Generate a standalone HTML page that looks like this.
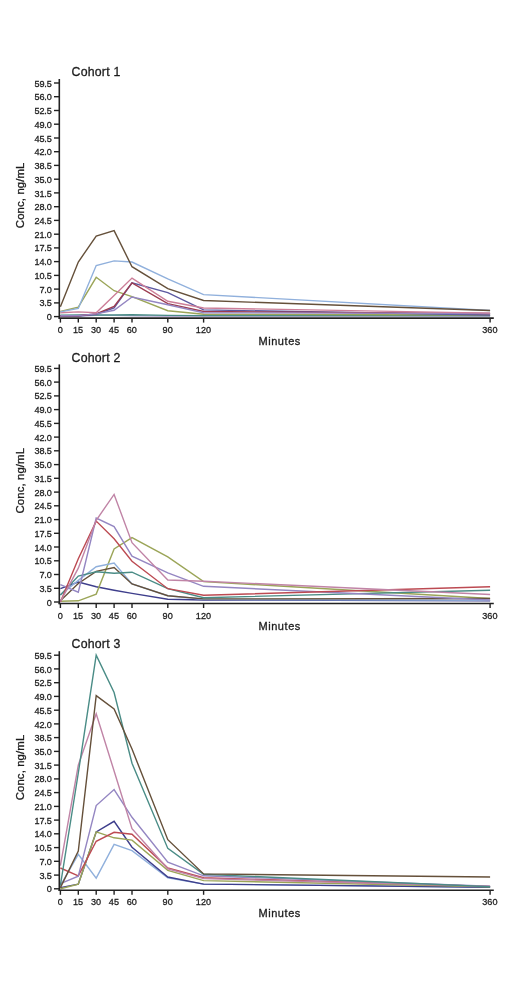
<!DOCTYPE html>
<html><head><meta charset="utf-8"><title>Cohort concentration charts</title>
<style>
html,body{margin:0;padding:0;background:#fff;}
body{width:520px;height:981px;overflow:hidden;}
svg{display:block;font-family:'Liberation Sans', Arial, sans-serif;}
</style></head>
<body>
<svg width="520" height="981" viewBox="0 0 520 981">
<g>
<text x="71.6" y="76.1" font-size="12.3" letter-spacing="0.22" stroke="#1c1c1c" stroke-width="0.3" fill="#1c1c1c">Cohort 1</text>
<text transform="translate(24.4,195.3) rotate(-90)" text-anchor="middle" font-size="11.4" letter-spacing="0.1" stroke="#1c1c1c" stroke-width="0.3" fill="#1c1c1c">Conc, ng/mL</text>
<polyline points="60.4,316.2 78.3,316.2 96.2,315.4 114.1,315.4 132.0,315.8 167.8,316.2 203.6,316.2 490.1,316.2" fill="none" stroke="#b8aed6" stroke-width="1.4" stroke-linejoin="miter"/>
<polyline points="60.4,315.2 78.3,315.0 96.2,315.0 114.1,315.0 132.0,314.8 167.8,315.4 203.6,315.6 490.1,315.6" fill="none" stroke="#4a8c86" stroke-width="1.4" stroke-linejoin="miter"/>
<polyline points="60.4,311.5 78.3,307.2 96.2,277.3 114.1,290.7 132.0,296.6 167.8,310.7 203.6,314.2 490.1,315.0" fill="none" stroke="#9ba558" stroke-width="1.4" stroke-linejoin="miter"/>
<polyline points="60.4,316.0 78.3,316.0 96.2,314.2 114.1,308.0 132.0,282.8 167.8,292.7 203.6,309.9 490.1,315.0" fill="none" stroke="#5c58a0" stroke-width="1.4" stroke-linejoin="miter"/>
<polyline points="60.4,315.8 78.3,315.8 96.2,313.9 114.1,306.4 132.0,282.8 167.8,303.6 203.6,311.5 490.1,313.5" fill="none" stroke="#9c3c50" stroke-width="1.4" stroke-linejoin="miter"/>
<polyline points="60.4,315.8 78.3,315.6 96.2,313.9 114.1,310.3 132.0,297.0 167.8,304.8 203.6,312.7 490.1,313.5" fill="none" stroke="#9486c2" stroke-width="1.4" stroke-linejoin="miter"/>
<polyline points="60.4,312.7 78.3,311.9 96.2,312.7 114.1,295.4 132.0,278.1 167.8,301.3 203.6,308.0 490.1,313.1" fill="none" stroke="#cc7e98" stroke-width="1.4" stroke-linejoin="miter"/>
<polyline points="60.4,311.9 78.3,308.4 96.2,265.6 114.1,260.9 132.0,262.0 167.8,278.9 203.6,294.6 490.1,310.5" fill="none" stroke="#90b0dc" stroke-width="1.4" stroke-linejoin="miter"/>
<polyline points="60.4,306.8 78.3,262.0 96.2,236.1 114.1,230.6 132.0,266.7 167.8,288.7 203.6,300.5 490.1,310.5" fill="none" stroke="#65503a" stroke-width="1.4" stroke-linejoin="miter"/>
<line x1="59.3" y1="79.0" x2="59.3" y2="318.8" stroke="#222" stroke-width="1.6"/>
<line x1="54" y1="316.6" x2="59.3" y2="316.6" stroke="#222" stroke-width="1.4"/>
<text transform="translate(51.6,320.20) scale(0.92,1)" font-size="9.9" letter-spacing="-0.2" text-anchor="end" stroke="#1c1c1c" stroke-width="0.3" fill="#1c1c1c">0</text>
<line x1="54" y1="302.9" x2="59.3" y2="302.9" stroke="#222" stroke-width="1.4"/>
<text transform="translate(51.6,306.46) scale(0.92,1)" font-size="9.9" letter-spacing="-0.2" text-anchor="end" stroke="#1c1c1c" stroke-width="0.3" fill="#1c1c1c">3.5</text>
<line x1="54" y1="289.1" x2="59.3" y2="289.1" stroke="#222" stroke-width="1.4"/>
<text transform="translate(51.6,292.72) scale(0.92,1)" font-size="9.9" letter-spacing="-0.2" text-anchor="end" stroke="#1c1c1c" stroke-width="0.3" fill="#1c1c1c">7.0</text>
<line x1="54" y1="275.4" x2="59.3" y2="275.4" stroke="#222" stroke-width="1.4"/>
<text transform="translate(51.6,278.98) scale(0.92,1)" font-size="9.9" letter-spacing="-0.2" text-anchor="end" stroke="#1c1c1c" stroke-width="0.3" fill="#1c1c1c">10.5</text>
<line x1="54" y1="261.6" x2="59.3" y2="261.6" stroke="#222" stroke-width="1.4"/>
<text transform="translate(51.6,265.24) scale(0.92,1)" font-size="9.9" letter-spacing="-0.2" text-anchor="end" stroke="#1c1c1c" stroke-width="0.3" fill="#1c1c1c">14.0</text>
<line x1="54" y1="247.9" x2="59.3" y2="247.9" stroke="#222" stroke-width="1.4"/>
<text transform="translate(51.6,251.49) scale(0.92,1)" font-size="9.9" letter-spacing="-0.2" text-anchor="end" stroke="#1c1c1c" stroke-width="0.3" fill="#1c1c1c">17.5</text>
<line x1="54" y1="234.2" x2="59.3" y2="234.2" stroke="#222" stroke-width="1.4"/>
<text transform="translate(51.6,237.75) scale(0.92,1)" font-size="9.9" letter-spacing="-0.2" text-anchor="end" stroke="#1c1c1c" stroke-width="0.3" fill="#1c1c1c">21.0</text>
<line x1="54" y1="220.4" x2="59.3" y2="220.4" stroke="#222" stroke-width="1.4"/>
<text transform="translate(51.6,224.01) scale(0.92,1)" font-size="9.9" letter-spacing="-0.2" text-anchor="end" stroke="#1c1c1c" stroke-width="0.3" fill="#1c1c1c">24.5</text>
<line x1="54" y1="206.7" x2="59.3" y2="206.7" stroke="#222" stroke-width="1.4"/>
<text transform="translate(51.6,210.27) scale(0.92,1)" font-size="9.9" letter-spacing="-0.2" text-anchor="end" stroke="#1c1c1c" stroke-width="0.3" fill="#1c1c1c">28.0</text>
<line x1="54" y1="192.9" x2="59.3" y2="192.9" stroke="#222" stroke-width="1.4"/>
<text transform="translate(51.6,196.53) scale(0.92,1)" font-size="9.9" letter-spacing="-0.2" text-anchor="end" stroke="#1c1c1c" stroke-width="0.3" fill="#1c1c1c">31.5</text>
<line x1="54" y1="179.2" x2="59.3" y2="179.2" stroke="#222" stroke-width="1.4"/>
<text transform="translate(51.6,182.79) scale(0.92,1)" font-size="9.9" letter-spacing="-0.2" text-anchor="end" stroke="#1c1c1c" stroke-width="0.3" fill="#1c1c1c">35.0</text>
<line x1="54" y1="165.4" x2="59.3" y2="165.4" stroke="#222" stroke-width="1.4"/>
<text transform="translate(51.6,169.05) scale(0.92,1)" font-size="9.9" letter-spacing="-0.2" text-anchor="end" stroke="#1c1c1c" stroke-width="0.3" fill="#1c1c1c">38.5</text>
<line x1="54" y1="151.7" x2="59.3" y2="151.7" stroke="#222" stroke-width="1.4"/>
<text transform="translate(51.6,155.31) scale(0.92,1)" font-size="9.9" letter-spacing="-0.2" text-anchor="end" stroke="#1c1c1c" stroke-width="0.3" fill="#1c1c1c">42.0</text>
<line x1="54" y1="138.0" x2="59.3" y2="138.0" stroke="#222" stroke-width="1.4"/>
<text transform="translate(51.6,141.56) scale(0.92,1)" font-size="9.9" letter-spacing="-0.2" text-anchor="end" stroke="#1c1c1c" stroke-width="0.3" fill="#1c1c1c">45.5</text>
<line x1="54" y1="124.2" x2="59.3" y2="124.2" stroke="#222" stroke-width="1.4"/>
<text transform="translate(51.6,127.82) scale(0.92,1)" font-size="9.9" letter-spacing="-0.2" text-anchor="end" stroke="#1c1c1c" stroke-width="0.3" fill="#1c1c1c">49.0</text>
<line x1="54" y1="110.5" x2="59.3" y2="110.5" stroke="#222" stroke-width="1.4"/>
<text transform="translate(51.6,114.08) scale(0.92,1)" font-size="9.9" letter-spacing="-0.2" text-anchor="end" stroke="#1c1c1c" stroke-width="0.3" fill="#1c1c1c">52.5</text>
<line x1="54" y1="96.7" x2="59.3" y2="96.7" stroke="#222" stroke-width="1.4"/>
<text transform="translate(51.6,100.34) scale(0.92,1)" font-size="9.9" letter-spacing="-0.2" text-anchor="end" stroke="#1c1c1c" stroke-width="0.3" fill="#1c1c1c">56.0</text>
<line x1="54" y1="83.0" x2="59.3" y2="83.0" stroke="#222" stroke-width="1.4"/>
<text transform="translate(51.6,86.60) scale(0.92,1)" font-size="9.9" letter-spacing="-0.2" text-anchor="end" stroke="#1c1c1c" stroke-width="0.3" fill="#1c1c1c">59.5</text>
<line x1="58.6" y1="318.1" x2="493.8" y2="318.1" stroke="#222" stroke-width="1.6"/>
<line x1="60.4" y1="318.1" x2="60.4" y2="322.6" stroke="#222" stroke-width="1.4"/>
<text transform="translate(60.20,333.20) scale(0.93,1)" font-size="9.8" text-anchor="middle" stroke="#1c1c1c" stroke-width="0.3" fill="#1c1c1c">0</text>
<line x1="78.3" y1="318.1" x2="78.3" y2="322.6" stroke="#222" stroke-width="1.4"/>
<text transform="translate(78.10,333.20) scale(0.93,1)" font-size="9.8" text-anchor="middle" stroke="#1c1c1c" stroke-width="0.3" fill="#1c1c1c">15</text>
<line x1="96.2" y1="318.1" x2="96.2" y2="322.6" stroke="#222" stroke-width="1.4"/>
<text transform="translate(96.01,333.20) scale(0.93,1)" font-size="9.8" text-anchor="middle" stroke="#1c1c1c" stroke-width="0.3" fill="#1c1c1c">30</text>
<line x1="114.1" y1="318.1" x2="114.1" y2="322.6" stroke="#222" stroke-width="1.4"/>
<text transform="translate(113.91,333.20) scale(0.93,1)" font-size="9.8" text-anchor="middle" stroke="#1c1c1c" stroke-width="0.3" fill="#1c1c1c">45</text>
<line x1="132.0" y1="318.1" x2="132.0" y2="322.6" stroke="#222" stroke-width="1.4"/>
<text transform="translate(131.82,333.20) scale(0.93,1)" font-size="9.8" text-anchor="middle" stroke="#1c1c1c" stroke-width="0.3" fill="#1c1c1c">60</text>
<line x1="167.8" y1="318.1" x2="167.8" y2="322.6" stroke="#222" stroke-width="1.4"/>
<text transform="translate(167.63,333.20) scale(0.93,1)" font-size="9.8" text-anchor="middle" stroke="#1c1c1c" stroke-width="0.3" fill="#1c1c1c">90</text>
<line x1="203.6" y1="318.1" x2="203.6" y2="322.6" stroke="#222" stroke-width="1.4"/>
<text transform="translate(203.43,333.20) scale(0.93,1)" font-size="9.8" text-anchor="middle" stroke="#1c1c1c" stroke-width="0.3" fill="#1c1c1c">120</text>
<line x1="490.1" y1="318.1" x2="490.1" y2="322.6" stroke="#222" stroke-width="1.4"/>
<text transform="translate(489.90,333.20) scale(0.93,1)" font-size="9.8" text-anchor="middle" stroke="#1c1c1c" stroke-width="0.3" fill="#1c1c1c">360</text>
<text x="279.7" y="344.9" font-size="11" letter-spacing="0.55" text-anchor="middle" stroke="#1c1c1c" stroke-width="0.3" fill="#1c1c1c">Minutes</text>
</g>
<g>
<text x="71.6" y="361.5" font-size="12.3" letter-spacing="0.22" stroke="#1c1c1c" stroke-width="0.3" fill="#1c1c1c">Cohort 2</text>
<text transform="translate(24.4,480.7) rotate(-90)" text-anchor="middle" font-size="11.4" letter-spacing="0.1" stroke="#1c1c1c" stroke-width="0.3" fill="#1c1c1c">Conc, ng/mL</text>
<polyline points="60.4,588.7 78.3,582.0 96.2,586.7 114.1,590.2 132.0,593.4 167.8,599.3 203.6,600.0 490.1,600.8" fill="none" stroke="#3e3e8c" stroke-width="1.4" stroke-linejoin="miter"/>
<polyline points="60.4,601.2 78.3,600.8 96.2,594.1 114.1,549.0 132.0,537.6 167.8,556.9 203.6,581.6 490.1,598.5" fill="none" stroke="#9ba558" stroke-width="1.4" stroke-linejoin="miter"/>
<polyline points="60.4,594.9 78.3,580.4 96.2,566.7 114.1,563.1 132.0,583.9 167.8,595.7 203.6,599.3 490.1,600.4" fill="none" stroke="#90b0dc" stroke-width="1.4" stroke-linejoin="miter"/>
<polyline points="60.4,600.8 78.3,583.5 96.2,571.4 114.1,567.5 132.0,583.9 167.8,595.7 203.6,598.9 490.1,598.5" fill="none" stroke="#65503a" stroke-width="1.4" stroke-linejoin="miter"/>
<polyline points="60.4,594.9 78.3,576.1 96.2,571.8 114.1,573.3 132.0,572.2 167.8,588.7 203.6,597.7 490.1,590.2" fill="none" stroke="#4a8c86" stroke-width="1.4" stroke-linejoin="miter"/>
<polyline points="60.4,584.7 78.3,592.2 96.2,518.0 114.1,526.6 132.0,556.1 167.8,572.9 203.6,586.3 490.1,600.0" fill="none" stroke="#9486c2" stroke-width="1.4" stroke-linejoin="miter"/>
<polyline points="60.4,602.0 78.3,558.8 96.2,521.1 114.1,538.8 132.0,561.2 167.8,588.7 203.6,595.3 490.1,586.7" fill="none" stroke="#bc4a52" stroke-width="1.4" stroke-linejoin="miter"/>
<polyline points="60.4,601.6 78.3,568.2 96.2,520.3 114.1,494.4 132.0,542.7 167.8,580.0 203.6,581.2 490.1,594.5" fill="none" stroke="#c084a6" stroke-width="1.4" stroke-linejoin="miter"/>
<line x1="59.3" y1="364.4" x2="59.3" y2="604.2" stroke="#222" stroke-width="1.6"/>
<line x1="54" y1="602.0" x2="59.3" y2="602.0" stroke="#222" stroke-width="1.4"/>
<text transform="translate(51.6,605.60) scale(0.92,1)" font-size="9.9" letter-spacing="-0.2" text-anchor="end" stroke="#1c1c1c" stroke-width="0.3" fill="#1c1c1c">0</text>
<line x1="54" y1="588.3" x2="59.3" y2="588.3" stroke="#222" stroke-width="1.4"/>
<text transform="translate(51.6,591.86) scale(0.92,1)" font-size="9.9" letter-spacing="-0.2" text-anchor="end" stroke="#1c1c1c" stroke-width="0.3" fill="#1c1c1c">3.5</text>
<line x1="54" y1="574.5" x2="59.3" y2="574.5" stroke="#222" stroke-width="1.4"/>
<text transform="translate(51.6,578.12) scale(0.92,1)" font-size="9.9" letter-spacing="-0.2" text-anchor="end" stroke="#1c1c1c" stroke-width="0.3" fill="#1c1c1c">7.0</text>
<line x1="54" y1="560.8" x2="59.3" y2="560.8" stroke="#222" stroke-width="1.4"/>
<text transform="translate(51.6,564.38) scale(0.92,1)" font-size="9.9" letter-spacing="-0.2" text-anchor="end" stroke="#1c1c1c" stroke-width="0.3" fill="#1c1c1c">10.5</text>
<line x1="54" y1="547.0" x2="59.3" y2="547.0" stroke="#222" stroke-width="1.4"/>
<text transform="translate(51.6,550.64) scale(0.92,1)" font-size="9.9" letter-spacing="-0.2" text-anchor="end" stroke="#1c1c1c" stroke-width="0.3" fill="#1c1c1c">14.0</text>
<line x1="54" y1="533.3" x2="59.3" y2="533.3" stroke="#222" stroke-width="1.4"/>
<text transform="translate(51.6,536.89) scale(0.92,1)" font-size="9.9" letter-spacing="-0.2" text-anchor="end" stroke="#1c1c1c" stroke-width="0.3" fill="#1c1c1c">17.5</text>
<line x1="54" y1="519.6" x2="59.3" y2="519.6" stroke="#222" stroke-width="1.4"/>
<text transform="translate(51.6,523.15) scale(0.92,1)" font-size="9.9" letter-spacing="-0.2" text-anchor="end" stroke="#1c1c1c" stroke-width="0.3" fill="#1c1c1c">21.0</text>
<line x1="54" y1="505.8" x2="59.3" y2="505.8" stroke="#222" stroke-width="1.4"/>
<text transform="translate(51.6,509.41) scale(0.92,1)" font-size="9.9" letter-spacing="-0.2" text-anchor="end" stroke="#1c1c1c" stroke-width="0.3" fill="#1c1c1c">24.5</text>
<line x1="54" y1="492.1" x2="59.3" y2="492.1" stroke="#222" stroke-width="1.4"/>
<text transform="translate(51.6,495.67) scale(0.92,1)" font-size="9.9" letter-spacing="-0.2" text-anchor="end" stroke="#1c1c1c" stroke-width="0.3" fill="#1c1c1c">28.0</text>
<line x1="54" y1="478.3" x2="59.3" y2="478.3" stroke="#222" stroke-width="1.4"/>
<text transform="translate(51.6,481.93) scale(0.92,1)" font-size="9.9" letter-spacing="-0.2" text-anchor="end" stroke="#1c1c1c" stroke-width="0.3" fill="#1c1c1c">31.5</text>
<line x1="54" y1="464.6" x2="59.3" y2="464.6" stroke="#222" stroke-width="1.4"/>
<text transform="translate(51.6,468.19) scale(0.92,1)" font-size="9.9" letter-spacing="-0.2" text-anchor="end" stroke="#1c1c1c" stroke-width="0.3" fill="#1c1c1c">35.0</text>
<line x1="54" y1="450.8" x2="59.3" y2="450.8" stroke="#222" stroke-width="1.4"/>
<text transform="translate(51.6,454.45) scale(0.92,1)" font-size="9.9" letter-spacing="-0.2" text-anchor="end" stroke="#1c1c1c" stroke-width="0.3" fill="#1c1c1c">38.5</text>
<line x1="54" y1="437.1" x2="59.3" y2="437.1" stroke="#222" stroke-width="1.4"/>
<text transform="translate(51.6,440.71) scale(0.92,1)" font-size="9.9" letter-spacing="-0.2" text-anchor="end" stroke="#1c1c1c" stroke-width="0.3" fill="#1c1c1c">42.0</text>
<line x1="54" y1="423.4" x2="59.3" y2="423.4" stroke="#222" stroke-width="1.4"/>
<text transform="translate(51.6,426.96) scale(0.92,1)" font-size="9.9" letter-spacing="-0.2" text-anchor="end" stroke="#1c1c1c" stroke-width="0.3" fill="#1c1c1c">45.5</text>
<line x1="54" y1="409.6" x2="59.3" y2="409.6" stroke="#222" stroke-width="1.4"/>
<text transform="translate(51.6,413.22) scale(0.92,1)" font-size="9.9" letter-spacing="-0.2" text-anchor="end" stroke="#1c1c1c" stroke-width="0.3" fill="#1c1c1c">49.0</text>
<line x1="54" y1="395.9" x2="59.3" y2="395.9" stroke="#222" stroke-width="1.4"/>
<text transform="translate(51.6,399.48) scale(0.92,1)" font-size="9.9" letter-spacing="-0.2" text-anchor="end" stroke="#1c1c1c" stroke-width="0.3" fill="#1c1c1c">52.5</text>
<line x1="54" y1="382.1" x2="59.3" y2="382.1" stroke="#222" stroke-width="1.4"/>
<text transform="translate(51.6,385.74) scale(0.92,1)" font-size="9.9" letter-spacing="-0.2" text-anchor="end" stroke="#1c1c1c" stroke-width="0.3" fill="#1c1c1c">56.0</text>
<line x1="54" y1="368.4" x2="59.3" y2="368.4" stroke="#222" stroke-width="1.4"/>
<text transform="translate(51.6,372.00) scale(0.92,1)" font-size="9.9" letter-spacing="-0.2" text-anchor="end" stroke="#1c1c1c" stroke-width="0.3" fill="#1c1c1c">59.5</text>
<line x1="58.6" y1="603.5" x2="493.8" y2="603.5" stroke="#222" stroke-width="1.6"/>
<line x1="60.4" y1="603.5" x2="60.4" y2="608.0" stroke="#222" stroke-width="1.4"/>
<text transform="translate(60.20,618.60) scale(0.93,1)" font-size="9.8" text-anchor="middle" stroke="#1c1c1c" stroke-width="0.3" fill="#1c1c1c">0</text>
<line x1="78.3" y1="603.5" x2="78.3" y2="608.0" stroke="#222" stroke-width="1.4"/>
<text transform="translate(78.10,618.60) scale(0.93,1)" font-size="9.8" text-anchor="middle" stroke="#1c1c1c" stroke-width="0.3" fill="#1c1c1c">15</text>
<line x1="96.2" y1="603.5" x2="96.2" y2="608.0" stroke="#222" stroke-width="1.4"/>
<text transform="translate(96.01,618.60) scale(0.93,1)" font-size="9.8" text-anchor="middle" stroke="#1c1c1c" stroke-width="0.3" fill="#1c1c1c">30</text>
<line x1="114.1" y1="603.5" x2="114.1" y2="608.0" stroke="#222" stroke-width="1.4"/>
<text transform="translate(113.91,618.60) scale(0.93,1)" font-size="9.8" text-anchor="middle" stroke="#1c1c1c" stroke-width="0.3" fill="#1c1c1c">45</text>
<line x1="132.0" y1="603.5" x2="132.0" y2="608.0" stroke="#222" stroke-width="1.4"/>
<text transform="translate(131.82,618.60) scale(0.93,1)" font-size="9.8" text-anchor="middle" stroke="#1c1c1c" stroke-width="0.3" fill="#1c1c1c">60</text>
<line x1="167.8" y1="603.5" x2="167.8" y2="608.0" stroke="#222" stroke-width="1.4"/>
<text transform="translate(167.63,618.60) scale(0.93,1)" font-size="9.8" text-anchor="middle" stroke="#1c1c1c" stroke-width="0.3" fill="#1c1c1c">90</text>
<line x1="203.6" y1="603.5" x2="203.6" y2="608.0" stroke="#222" stroke-width="1.4"/>
<text transform="translate(203.43,618.60) scale(0.93,1)" font-size="9.8" text-anchor="middle" stroke="#1c1c1c" stroke-width="0.3" fill="#1c1c1c">120</text>
<line x1="490.1" y1="603.5" x2="490.1" y2="608.0" stroke="#222" stroke-width="1.4"/>
<text transform="translate(489.90,618.60) scale(0.93,1)" font-size="9.8" text-anchor="middle" stroke="#1c1c1c" stroke-width="0.3" fill="#1c1c1c">360</text>
<text x="279.7" y="630.3" font-size="11" letter-spacing="0.55" text-anchor="middle" stroke="#1c1c1c" stroke-width="0.3" fill="#1c1c1c">Minutes</text>
</g>
<g>
<text x="71.6" y="648.3" font-size="12.3" letter-spacing="0.22" stroke="#1c1c1c" stroke-width="0.3" fill="#1c1c1c">Cohort 3</text>
<text transform="translate(24.4,767.5) rotate(-90)" text-anchor="middle" font-size="11.4" letter-spacing="0.1" stroke="#1c1c1c" stroke-width="0.3" fill="#1c1c1c">Conc, ng/mL</text>
<polyline points="60.4,885.7 78.3,854.3 96.2,878.2 114.1,844.4 132.0,850.7 167.8,877.8 203.6,884.1 490.1,887.2" fill="none" stroke="#90b0dc" stroke-width="1.4" stroke-linejoin="miter"/>
<polyline points="60.4,887.6 78.3,884.1 96.2,831.9 114.1,821.3 132.0,847.2 167.8,877.0 203.6,884.1 490.1,887.2" fill="none" stroke="#3e3e8c" stroke-width="1.4" stroke-linejoin="miter"/>
<polyline points="60.4,888.8 78.3,884.1 96.2,831.9 114.1,837.8 132.0,840.1 167.8,870.3 203.6,880.6 490.1,886.8" fill="none" stroke="#9ba558" stroke-width="1.4" stroke-linejoin="miter"/>
<polyline points="60.4,868.0 78.3,875.8 96.2,841.3 114.1,832.3 132.0,834.2 167.8,868.0 203.6,877.8 490.1,886.4" fill="none" stroke="#bc4a52" stroke-width="1.4" stroke-linejoin="miter"/>
<polyline points="60.4,883.7 78.3,876.2 96.2,805.6 114.1,789.5 132.0,817.3 167.8,862.1 203.6,875.8 490.1,886.1" fill="none" stroke="#9486c2" stroke-width="1.4" stroke-linejoin="miter"/>
<polyline points="60.4,865.6 78.3,765.1 96.2,713.7 114.1,771.0 132.0,828.7 167.8,868.8 203.6,878.6 490.1,886.4" fill="none" stroke="#c084a6" stroke-width="1.4" stroke-linejoin="miter"/>
<polyline points="60.4,885.3 78.3,773.0 96.2,655.2 114.1,692.5 132.0,763.2 167.8,848.4 203.6,874.3 490.1,886.8" fill="none" stroke="#4a8c86" stroke-width="1.4" stroke-linejoin="miter"/>
<polyline points="60.4,887.6 78.3,851.1 96.2,695.6 114.1,709.0 132.0,749.0 167.8,839.7 203.6,873.9 490.1,877.0" fill="none" stroke="#65503a" stroke-width="1.4" stroke-linejoin="miter"/>
<line x1="59.3" y1="651.2" x2="59.3" y2="891.0" stroke="#222" stroke-width="1.6"/>
<line x1="54" y1="888.8" x2="59.3" y2="888.8" stroke="#222" stroke-width="1.4"/>
<text transform="translate(51.6,892.40) scale(0.92,1)" font-size="9.9" letter-spacing="-0.2" text-anchor="end" stroke="#1c1c1c" stroke-width="0.3" fill="#1c1c1c">0</text>
<line x1="54" y1="875.1" x2="59.3" y2="875.1" stroke="#222" stroke-width="1.4"/>
<text transform="translate(51.6,878.66) scale(0.92,1)" font-size="9.9" letter-spacing="-0.2" text-anchor="end" stroke="#1c1c1c" stroke-width="0.3" fill="#1c1c1c">3.5</text>
<line x1="54" y1="861.3" x2="59.3" y2="861.3" stroke="#222" stroke-width="1.4"/>
<text transform="translate(51.6,864.92) scale(0.92,1)" font-size="9.9" letter-spacing="-0.2" text-anchor="end" stroke="#1c1c1c" stroke-width="0.3" fill="#1c1c1c">7.0</text>
<line x1="54" y1="847.6" x2="59.3" y2="847.6" stroke="#222" stroke-width="1.4"/>
<text transform="translate(51.6,851.18) scale(0.92,1)" font-size="9.9" letter-spacing="-0.2" text-anchor="end" stroke="#1c1c1c" stroke-width="0.3" fill="#1c1c1c">10.5</text>
<line x1="54" y1="833.8" x2="59.3" y2="833.8" stroke="#222" stroke-width="1.4"/>
<text transform="translate(51.6,837.44) scale(0.92,1)" font-size="9.9" letter-spacing="-0.2" text-anchor="end" stroke="#1c1c1c" stroke-width="0.3" fill="#1c1c1c">14.0</text>
<line x1="54" y1="820.1" x2="59.3" y2="820.1" stroke="#222" stroke-width="1.4"/>
<text transform="translate(51.6,823.69) scale(0.92,1)" font-size="9.9" letter-spacing="-0.2" text-anchor="end" stroke="#1c1c1c" stroke-width="0.3" fill="#1c1c1c">17.5</text>
<line x1="54" y1="806.4" x2="59.3" y2="806.4" stroke="#222" stroke-width="1.4"/>
<text transform="translate(51.6,809.95) scale(0.92,1)" font-size="9.9" letter-spacing="-0.2" text-anchor="end" stroke="#1c1c1c" stroke-width="0.3" fill="#1c1c1c">21.0</text>
<line x1="54" y1="792.6" x2="59.3" y2="792.6" stroke="#222" stroke-width="1.4"/>
<text transform="translate(51.6,796.21) scale(0.92,1)" font-size="9.9" letter-spacing="-0.2" text-anchor="end" stroke="#1c1c1c" stroke-width="0.3" fill="#1c1c1c">24.5</text>
<line x1="54" y1="778.9" x2="59.3" y2="778.9" stroke="#222" stroke-width="1.4"/>
<text transform="translate(51.6,782.47) scale(0.92,1)" font-size="9.9" letter-spacing="-0.2" text-anchor="end" stroke="#1c1c1c" stroke-width="0.3" fill="#1c1c1c">28.0</text>
<line x1="54" y1="765.1" x2="59.3" y2="765.1" stroke="#222" stroke-width="1.4"/>
<text transform="translate(51.6,768.73) scale(0.92,1)" font-size="9.9" letter-spacing="-0.2" text-anchor="end" stroke="#1c1c1c" stroke-width="0.3" fill="#1c1c1c">31.5</text>
<line x1="54" y1="751.4" x2="59.3" y2="751.4" stroke="#222" stroke-width="1.4"/>
<text transform="translate(51.6,754.99) scale(0.92,1)" font-size="9.9" letter-spacing="-0.2" text-anchor="end" stroke="#1c1c1c" stroke-width="0.3" fill="#1c1c1c">35.0</text>
<line x1="54" y1="737.6" x2="59.3" y2="737.6" stroke="#222" stroke-width="1.4"/>
<text transform="translate(51.6,741.25) scale(0.92,1)" font-size="9.9" letter-spacing="-0.2" text-anchor="end" stroke="#1c1c1c" stroke-width="0.3" fill="#1c1c1c">38.5</text>
<line x1="54" y1="723.9" x2="59.3" y2="723.9" stroke="#222" stroke-width="1.4"/>
<text transform="translate(51.6,727.51) scale(0.92,1)" font-size="9.9" letter-spacing="-0.2" text-anchor="end" stroke="#1c1c1c" stroke-width="0.3" fill="#1c1c1c">42.0</text>
<line x1="54" y1="710.2" x2="59.3" y2="710.2" stroke="#222" stroke-width="1.4"/>
<text transform="translate(51.6,713.76) scale(0.92,1)" font-size="9.9" letter-spacing="-0.2" text-anchor="end" stroke="#1c1c1c" stroke-width="0.3" fill="#1c1c1c">45.5</text>
<line x1="54" y1="696.4" x2="59.3" y2="696.4" stroke="#222" stroke-width="1.4"/>
<text transform="translate(51.6,700.02) scale(0.92,1)" font-size="9.9" letter-spacing="-0.2" text-anchor="end" stroke="#1c1c1c" stroke-width="0.3" fill="#1c1c1c">49.0</text>
<line x1="54" y1="682.7" x2="59.3" y2="682.7" stroke="#222" stroke-width="1.4"/>
<text transform="translate(51.6,686.28) scale(0.92,1)" font-size="9.9" letter-spacing="-0.2" text-anchor="end" stroke="#1c1c1c" stroke-width="0.3" fill="#1c1c1c">52.5</text>
<line x1="54" y1="668.9" x2="59.3" y2="668.9" stroke="#222" stroke-width="1.4"/>
<text transform="translate(51.6,672.54) scale(0.92,1)" font-size="9.9" letter-spacing="-0.2" text-anchor="end" stroke="#1c1c1c" stroke-width="0.3" fill="#1c1c1c">56.0</text>
<line x1="54" y1="655.2" x2="59.3" y2="655.2" stroke="#222" stroke-width="1.4"/>
<text transform="translate(51.6,658.80) scale(0.92,1)" font-size="9.9" letter-spacing="-0.2" text-anchor="end" stroke="#1c1c1c" stroke-width="0.3" fill="#1c1c1c">59.5</text>
<line x1="58.6" y1="890.3" x2="493.8" y2="890.3" stroke="#222" stroke-width="1.6"/>
<line x1="60.4" y1="890.3" x2="60.4" y2="894.8" stroke="#222" stroke-width="1.4"/>
<text transform="translate(60.20,905.40) scale(0.93,1)" font-size="9.8" text-anchor="middle" stroke="#1c1c1c" stroke-width="0.3" fill="#1c1c1c">0</text>
<line x1="78.3" y1="890.3" x2="78.3" y2="894.8" stroke="#222" stroke-width="1.4"/>
<text transform="translate(78.10,905.40) scale(0.93,1)" font-size="9.8" text-anchor="middle" stroke="#1c1c1c" stroke-width="0.3" fill="#1c1c1c">15</text>
<line x1="96.2" y1="890.3" x2="96.2" y2="894.8" stroke="#222" stroke-width="1.4"/>
<text transform="translate(96.01,905.40) scale(0.93,1)" font-size="9.8" text-anchor="middle" stroke="#1c1c1c" stroke-width="0.3" fill="#1c1c1c">30</text>
<line x1="114.1" y1="890.3" x2="114.1" y2="894.8" stroke="#222" stroke-width="1.4"/>
<text transform="translate(113.91,905.40) scale(0.93,1)" font-size="9.8" text-anchor="middle" stroke="#1c1c1c" stroke-width="0.3" fill="#1c1c1c">45</text>
<line x1="132.0" y1="890.3" x2="132.0" y2="894.8" stroke="#222" stroke-width="1.4"/>
<text transform="translate(131.82,905.40) scale(0.93,1)" font-size="9.8" text-anchor="middle" stroke="#1c1c1c" stroke-width="0.3" fill="#1c1c1c">60</text>
<line x1="167.8" y1="890.3" x2="167.8" y2="894.8" stroke="#222" stroke-width="1.4"/>
<text transform="translate(167.63,905.40) scale(0.93,1)" font-size="9.8" text-anchor="middle" stroke="#1c1c1c" stroke-width="0.3" fill="#1c1c1c">90</text>
<line x1="203.6" y1="890.3" x2="203.6" y2="894.8" stroke="#222" stroke-width="1.4"/>
<text transform="translate(203.43,905.40) scale(0.93,1)" font-size="9.8" text-anchor="middle" stroke="#1c1c1c" stroke-width="0.3" fill="#1c1c1c">120</text>
<line x1="490.1" y1="890.3" x2="490.1" y2="894.8" stroke="#222" stroke-width="1.4"/>
<text transform="translate(489.90,905.40) scale(0.93,1)" font-size="9.8" text-anchor="middle" stroke="#1c1c1c" stroke-width="0.3" fill="#1c1c1c">360</text>
<text x="279.7" y="917.1" font-size="11" letter-spacing="0.55" text-anchor="middle" stroke="#1c1c1c" stroke-width="0.3" fill="#1c1c1c">Minutes</text>
</g>
</svg>
</body></html>
